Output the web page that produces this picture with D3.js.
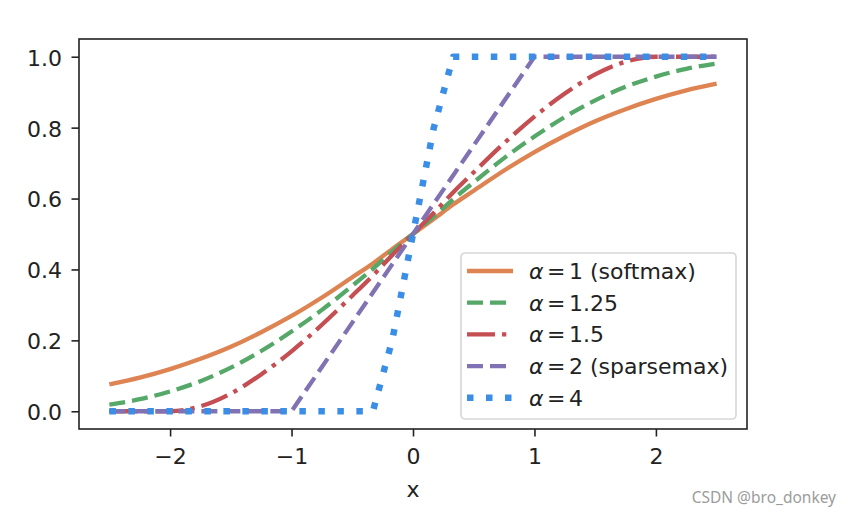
<!DOCTYPE html>
<html>
<head>
<meta charset="utf-8">
<script src="https://cdn.jsdelivr.net/npm/d3@7"></script>
<style>
  body { margin: 0; background: #fff; }
  svg { display: block; font-family: "DejaVu Sans", sans-serif; }
</style>
</head>
<body>
<div id="chart"></div>
<script>
// x positions the curves were read at
var xs = [-2.5, -2.25, -2, -1.75, -1.5, -1.25, -1, -0.75, -0.5, -0.33, -0.17, 0,
          0.17, 0.33, 0.5, 0.75, 1, 1.25, 1.5, 1.75, 2, 2.25, 2.5];

// values, one array per alpha
var alpha1 = [0.076, 0.095, 0.119, 0.148, 0.182, 0.223, 0.269, 0.321, 0.378, 0.417, 0.458, 0.5,
              0.542, 0.583, 0.622, 0.679, 0.731, 0.777, 0.818, 0.852, 0.881, 0.905, 0.924];
var alpha125 = [0.019, 0.034, 0.056, 0.085, 0.123, 0.170, 0.225, 0.286, 0.354, 0.402, 0.451, 0.5,
                0.549, 0.598, 0.646, 0.714, 0.775, 0.830, 0.877, 0.915, 0.944, 0.966, 0.981];
var alpha15 = [0, 0, 0, 0.014, 0.050, 0.104, 0.169, 0.244, 0.326, 0.383, 0.441, 0.5,
               0.559, 0.617, 0.674, 0.756, 0.831, 0.896, 0.950, 0.986, 1, 1, 1];
var alpha2 = [0, 0, 0, 0, 0, 0, 0, 0.125, 0.25, 0.335, 0.415, 0.5,
              0.585, 0.665, 0.75, 0.875, 1, 1, 1, 1, 1, 1, 1];
var alpha4 = [0, 0, 0, 0, 0, 0, 0, 0, 0, 0, 0.202, 0.5,
              0.798, 1, 1, 1, 1, 1, 1, 1, 1, 1, 1];

var legendValues = ['1 (softmax)', '1.25', '1.5', '2 (sparsemax)', '4'];
var xTicks = [-2, -1, 0, 1, 2];
var yTicks = [0, 0.2, 0.4, 0.6, 0.8, 1.0];

var svgWidth = 851, svgHeight = 514;
var box = {left: 79, right: 747, top: 39, bottom: 429};

var series = [
    {y: alpha1, color: '#dd8452', dash: null, width: 4.3, curve: d3.curveMonotoneX},
    {y: alpha125, color: '#55a868', dash: '16 7', width: 4.3, curve: d3.curveMonotoneX},
    {y: alpha15, color: '#c44e52', dash: '28 7 4.3 7', width: 4.3, curve: d3.curveMonotoneX},
    {y: alpha2, color: '#8172b3', dash: '16 7', width: 4.3, curve: d3.curveLinear},
    {y: alpha4, color: '#3a8ee6', dash: '6.5 12.5', width: 6.5, curve: d3.curveLinear}
];

var svg = d3.select('#chart').append('svg')
    .attr('width', svgWidth).attr('height', svgHeight);

var x = d3.scaleLinear().domain([-2.75, 2.75]).range([box.left, box.right]);
var y = d3.scaleLinear().domain([-0.05, 1.05]).range([box.bottom, box.top]);

// curves
series.forEach(function(s) {
    var line = d3.line()
        .x(function(d, i) { return x(xs[i]); })
        .y(function(d) { return y(d); })
        .curve(s.curve);
    svg.append('path')
        .datum(s.y)
        .attr('d', line)
        .attr('fill', 'none')
        .attr('stroke', s.color)
        .attr('stroke-width', s.width)
        .attr('stroke-dasharray', s.dash)
        .attr('stroke-linejoin', 'round');
});

// axes
var xAxis = svg.append('g')
    .attr('transform', 'translate(0,' + box.bottom + ')')
    .call(d3.axisBottom(x).tickValues(xTicks).tickSize(7.5).tickPadding(12).tickFormat(d3.format('d')));
var yAxis = svg.append('g')
    .attr('transform', 'translate(' + box.left + ',0)')
    .call(d3.axisLeft(y).tickValues(yTicks).tickSize(7.5).tickPadding(9.5).tickFormat(d3.format('.1f')));

[xAxis, yAxis].forEach(function(a) {
    a.select('.domain').remove();
    a.selectAll('.tick line').attr('stroke', '#222').attr('stroke-width', 1.6);
    a.selectAll('.tick text')
        .attr('fill', '#222')
        .style('font-family', '"DejaVu Sans", sans-serif')
        .style('font-size', '22px');
});
yAxis.selectAll('.tick text').attr('dy', '0.38em');

// frame
svg.append('rect')
    .attr('x', box.left).attr('y', box.top)
    .attr('width', box.right - box.left).attr('height', box.bottom - box.top)
    .attr('fill', 'none').attr('stroke', '#222').attr('stroke-width', 1.6);

// x label
svg.append('text')
    .attr('x', x(0)).attr('y', 497)
    .attr('text-anchor', 'middle')
    .attr('fill', '#222')
    .style('font-size', '22px')
    .text('x');

// legend
var legend = svg.append('g');
legend.append('rect')
    .attr('x', 461).attr('y', 253)
    .attr('width', 275).attr('height', 166)
    .attr('rx', 4)
    .attr('fill', '#fff').attr('fill-opacity', 0.8)
    .attr('stroke', '#d6d6d6').attr('stroke-width', 1.6);

var rows = legend.selectAll('g.row')
    .data(series)
    .enter().append('g')
    .attr('class', 'row')
    .attr('transform', function(d, i) { return 'translate(0,' + (271 + i * 31.7) + ')'; });

rows.append('line')
    .attr('x1', 467).attr('x2', 513)
    .attr('stroke', function(d) { return d.color; })
    .attr('stroke-width', function(d) { return d.width; })
    .attr('stroke-dasharray', function(d) { return d.dash; });

var labels = rows.append('text')
    .attr('x', 529).attr('y', 8)
    .attr('fill', '#222')
    .style('font-size', '22px');
labels.append('tspan').style('font-style', 'italic').text('α');
labels.append('tspan').attr('dx', 3.5).text('=');
labels.append('tspan').attr('dx', 3.5).text(function(d, i) { return legendValues[i]; });

// watermark
svg.append('text')
    .attr('x', 836).attr('y', 503)
    .attr('text-anchor', 'end')
    .attr('fill', '#9c9c9c')
    .style('font-family', '"Noto Sans", "Liberation Sans", sans-serif')
    .style('font-size', '15.5px')
    .text('CSDN @bro_donkey');
</script>
</body>
</html>
